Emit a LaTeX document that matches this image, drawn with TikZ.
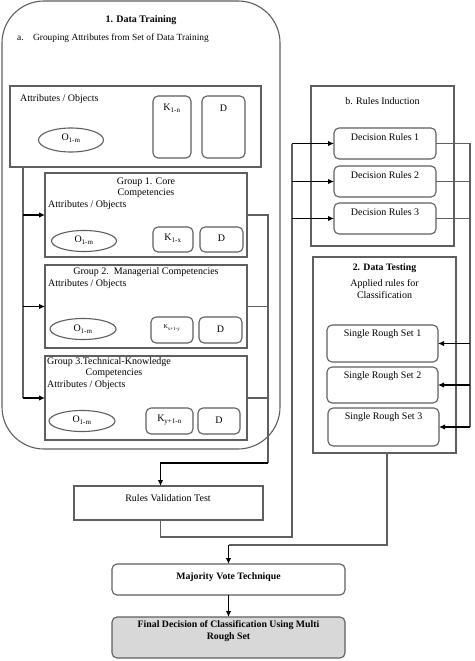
\documentclass[tikz,border=0pt]{standalone}
\usepackage{fontspec}
\setmainfont{Liberation Serif}
\usetikzlibrary{shapes.geometric,arrows.meta}
\definecolor{boxc}{RGB}{95,95,95}
\definecolor{finalfill}{RGB}{216,216,216}
\newcommand{\boxat}[6]{\node[#1, minimum width={#4-#2}, minimum height={#5-#3}, anchor=north west] (#6) at (#2,#3) {};}
\tikzset{
  box/.style={draw=boxc, line width=1.1pt, fill=white, inner sep=0pt, outer sep=0pt},
  rbox/.style={box, rounded corners=5pt},
  oval/.style={draw=boxc, line width=1.1pt, ellipse, inner sep=0pt, outer sep=0pt},
  txt/.style={inner sep=0pt, font=\fontsize{10}{11.5}\selectfont, align=center},
  btxt/.style={txt, font=\fontsize{9.8}{11.5}\selectfont\bfseries},
  ln/.style={draw=boxc, line width=1.1pt},
  arr/.style={draw=black, line width=1.2pt, -{Latex[length=6pt,width=5.5pt]}},
}
\begin{document}
\begin{tikzpicture}[x=1pt,y=-1pt]
\useasboundingbox (0,0) rectangle (474,661);
\fill[white] (0,0) rectangle (474,661);

% big rounded training box
\node[draw=boxc, line width=1.1pt, rounded corners=42pt, minimum width=278, minimum height=448, anchor=north west, inner sep=0pt, outer sep=0pt] (train) at (2,1) {};
\node[btxt, font=\fontsize{10}{12}\selectfont\bfseries] (ttl) at (141,20) {1. Data Training};
\node[txt, anchor=west, font=\fontsize{9.4}{11}\selectfont] (ttla) at (17,38) {a.\hspace{1em}Grouping Attributes from Set of Data Training};

% main attributes box
\boxat{box}{10}{86}{261}{167}{attr}
\node[txt, anchor=west] (attrt) at (20,99) {Attributes / Objects};
\node[oval, minimum width=65, minimum height=24] (o0) at (71,140) {};
\node[txt] (o0t) at (71,138) {O\textsubscript{1-m}};
\boxat{rbox}{153}{96}{191}{158}{k0}
\node[txt] (k0t) at (172,108) {K\textsubscript{1-n}};
\boxat{rbox}{202}{96}{245}{158}{d0}
\node[txt] (d0t) at (223.5,108) {D};

% group 1
\boxat{box}{45}{173}{247}{257}{g1}
\node[txt] (g1t) at (146,188) {Group 1. Core\\Competencies};
\node[txt, anchor=west] (g1a) at (48,205) {Attributes / Objects};
\node[oval, minimum width=65, minimum height=21] (o1) at (84,241) {};
\node[txt] (o1t) at (84,240) {O\textsubscript{1-m}};
\boxat{rbox}{153}{227}{193}{252}{k1}
\node[txt] (k1t) at (173,238) {K\textsubscript{1-x}};
\boxat{rbox}{200}{227}{243}{252}{d1}
\node[txt] (d1t) at (221.5,238) {D};

% group 2
\boxat{box}{45}{265}{247}{348}{g2}
\node[txt] (g2t) at (146,272) {Group 2.\ \ Managerial Competencies};
\node[txt, anchor=west] (g2a) at (48,284) {Attributes / Objects};
\node[oval, minimum width=66, minimum height=21] (o2) at (83,329) {};
\node[txt] (o2t) at (83,329) {O\textsubscript{1-m}};
\boxat{rbox}{151}{317}{193}{343}{k2}
\node[txt, font=\fontsize{6}{7}\selectfont] (k2t) at (172,328) {K\textsubscript{x+1-y}};
\boxat{rbox}{199}{317}{242}{343}{d2}
\node[txt] (d2t) at (220.5,329) {D};

% group 3
\boxat{box}{45}{356}{247}{440}{g3}
\node[txt, anchor=west] (g3t) at (47,362) {Group 3.Technical-Knowledge};
\node[txt] (g3t2) at (114,373) {Competencies};
\node[txt, anchor=west] (g3a) at (47,385) {Attributes / Objects};
\node[oval, minimum width=66, minimum height=21] (o3) at (82,421) {};
\node[txt] (o3t) at (82,420) {O\textsubscript{1-m}};
\boxat{rbox}{146}{408}{193}{434}{k3}
\node[txt] (k3t) at (169.5,420) {K\textsubscript{y+1-n}};
\boxat{rbox}{198}{408}{240}{434}{d3}
\node[txt] (d3t) at (219,420) {D};

% rules induction
\boxat{box}{311}{86}{454}{246}{ri}
\node[txt] (rit) at (382.5,101) {b. Rules Induction};
\boxat{rbox}{334}{128}{436}{159}{dr1}
\node[txt] (dr1t) at (385,137) {Decision Rules 1};
\boxat{rbox}{334}{166}{436}{197}{dr2}
\node[txt] (dr2t) at (385,175) {Decision Rules 2};
\boxat{rbox}{334}{203}{436}{234}{dr3}
\node[txt] (dr3t) at (385,212) {Decision Rules 3};

% data testing
\boxat{box}{313}{257}{456}{453}{dt}
\node[btxt] (dtt) at (384.5,268) {2. Data Testing};
\node[txt] (dtt2) at (384.5,289) {Applied rules for\\Classification};
\boxat{rbox}{327}{325}{438}{362}{s1}
\node[txt] (s1t) at (382.5,334) {Single Rough Set 1};
\boxat{rbox}{327}{367}{438}{403}{s2}
\node[txt] (s2t) at (382.5,376) {Single Rough Set 2};
\boxat{rbox}{328}{408}{439}{446}{s3}
\node[txt] (s3t) at (383.5,417) {Single Rough Set 3};

% lower boxes
\boxat{box}{74}{486}{263}{520}{rvt}
\node[txt] (rvtt) at (168,498) {Rules Validation Test};
\boxat{rbox}{112}{564}{345}{595}{mv}
\node[btxt] (mvt) at (228.5,577) {Majority Vote Technique};
\boxat{rbox, fill=finalfill}{112}{617}{345}{658}{fin}
\node[btxt] (fint) at (228.5,631) {Final Decision of Classification Using Multi\\Rough Set};

% connector coordinates
\coordinate (lb) at (23,167);
\coordinate (rb) at (268,463);
\coordinate (vb) at (292,537);
\coordinate (db) at (470,143.5);
\coordinate (mb) at (387,545);

% left bus into groups
\draw[ln] (lb) -- (lb |- g3.west);
\draw[arr] (lb |- g1.west) -- (g1.west);
\draw[arr] (lb |- g2.west) -- (g2.west);
\draw[arr] (lb |- g3.west) -- (g3.west);

% right bus from groups to rules validation
\draw[ln] (g1.east) -- (g1.east -| rb) -- (rb);
\draw[ln] (g2.east) -- (g2.east -| rb);
\draw[ln] (g3.east) -- (g3.east -| rb);
\draw[arr] (rb) -- ([xshift=-8pt]rb -| rvt.north) -- ([xshift=-8pt]rvt.north);

% rules validation to decision rules
\draw[ln] ([xshift=-8pt]rvt.south) -- ([xshift=-8pt]rvt.south |- vb) -- (vb) -- (vb |- dr1.west);
\draw[arr] (vb |- dr1.west) -- (dr1.west);
\draw[arr] (vb |- dr2.west) -- (dr2.west);
\draw[arr] (vb |- dr3.west) -- (dr3.west);

% decision rules to single rough sets
\draw[ln] (dr1.east) -- (db) -- (db |- s3.east);
\draw[ln] (dr2.east) -- (dr2.east -| db);
\draw[ln] (dr3.east) -- (dr3.east -| db);
\draw[arr] (db |- s1.east) -- (s1.east);
\draw[arr] (db |- s2.east) -- (s2.east);
\draw[arr] (db |- s3.east) -- (s3.east);

% data testing to majority vote to final
\draw[ln] (dt.south -| mb) -- (mb) -- (mb -| mv.north);
\draw[arr] (mb -| mv.north) -- (mv.north);
\draw[arr] (mv.south) -- (fin.north);
\end{tikzpicture}
\end{document}
